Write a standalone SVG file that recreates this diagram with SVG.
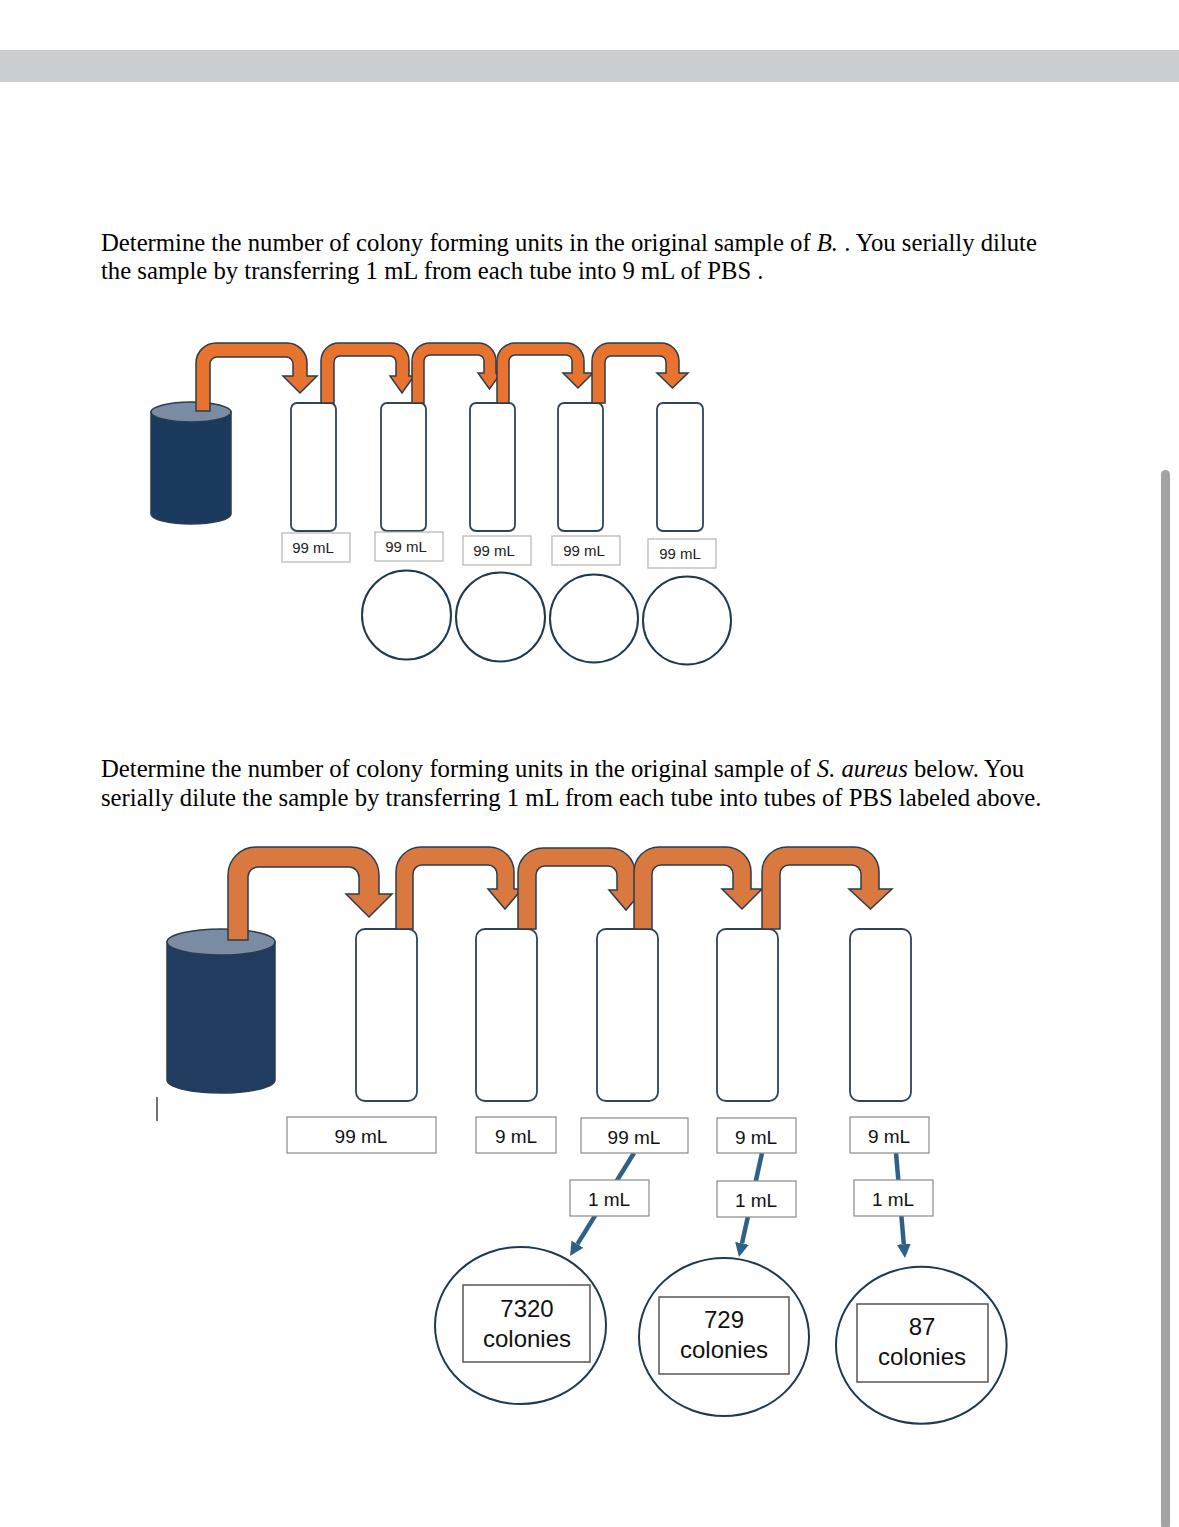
<svg xmlns="http://www.w3.org/2000/svg" width="1179" height="1527" viewBox="0 0 1179 1527">
<style>
.para{font-family:"Liberation Serif","Times New Roman",serif;font-size:24.7px;fill:#000}
.it{font-style:italic}
.tube{fill:#fff;stroke:#2c4558;stroke-width:1.8}
.arrT{fill:#e8732f;stroke:#2a3d4f;stroke-width:1.5;stroke-linejoin:miter}
.arrB{fill:#d97940;stroke:#2a3d4f;stroke-width:1.5;stroke-linejoin:miter}
.lblT{fill:#fff;stroke:#b4b4b4;stroke-width:1.2}
.lblB{fill:#fff;stroke:#8a8a8a;stroke-width:1.2}
.tT{font-family:"Liberation Sans",Arial,sans-serif;font-size:15px;fill:#222;text-anchor:middle}
.tB{font-family:"Liberation Sans",Arial,sans-serif;font-size:19px;fill:#111;text-anchor:middle}
.tC{font-family:"Liberation Sans",Arial,sans-serif;font-size:24px;fill:#111;text-anchor:middle}
.plate{fill:#fff;stroke:#1f3a4f;stroke-width:2}
.cbox{fill:#fff;stroke:#555;stroke-width:1.5}
.blue{stroke:#2e6088;stroke-width:4.5;fill:none;marker-end:url(#bh)}
</style>
<defs>
<marker id="bh" viewBox="0 0 10 10" refX="0" refY="5" markerWidth="14" markerHeight="14" markerUnits="userSpaceOnUse" orient="auto"><path d="M0,0 L10,5 L0,10 z" fill="#2e6088"/></marker>
</defs>
<rect x="0" y="0" width="1179" height="1527" fill="#fff"/>
<rect x="0" y="50" width="1179" height="32" fill="#c9ced2"/>
<rect x="1161" y="470" width="9" height="1060" rx="4.5" fill="#a3a3a3"/>

<text class="para" x="101" y="251">Determine the number of colony forming units in the original sample of <tspan class="it">B.</tspan> . You serially dilute</text>
<text class="para" x="101" y="279">the sample by transferring 1 mL from each tube into 9 mL of PBS .</text>

<text class="para" x="101" y="777">Determine the number of colony forming units in the original sample of <tspan class="it">S. aureus</tspan> below. You</text>
<text class="para" x="101" y="806">serially dilute the sample by transferring 1 mL from each tube into tubes of PBS labeled above.</text>

<!-- Top diagram -->
<g id="top-stock">
<path d="M151,412 V514 A40,10 0 0 0 231,514 V412 Z" fill="#1a3a5e" stroke="#2a3d4f" stroke-width="1.5"/>
<ellipse cx="191" cy="412" rx="40" ry="10" fill="#7a8ca4" stroke="#2a3d4f" stroke-width="1.5"/>
</g>
<g id="top-tube1"><rect class="tube" x="291" y="403" width="45" height="128" rx="6"/></g>
<g id="top-tube2"><rect class="tube" x="381" y="403" width="45" height="128" rx="6"/></g>
<g id="top-tube3"><rect class="tube" x="470" y="403" width="45" height="128" rx="6"/></g>
<g id="top-tube4"><rect class="tube" x="558" y="403" width="45" height="128" rx="6"/></g>
<g id="top-tube5"><rect class="tube" x="657" y="403" width="46" height="128" rx="6"/></g>

<g id="top-connectors">
<path class="arrT" d="M196,411 V363 A20,20 0 0 1 216,343 H287 A20,20 0 0 1 307,363 V376 H317 L300,393 L283,376 H293 V364 A7,7 0 0 0 286,357 H217 A7,7 0 0 0 210,364 V411 Z"/>
<path class="arrT" d="M321,403 V361 A18,18 0 0 1 339,343 H391 A18,18 0 0 1 409,361 V376 H414 L402,393 L390,376 H396 V362 A6,6 0 0 0 390,356 H340 A6,6 0 0 0 334,362 V403 Z"/>
<path class="arrT" d="M412,403 V361 A18,18 0 0 1 430,343 H478 A18,18 0 0 1 496,361 V373 H501 L489.5,389 L478,373 H484 V361 A6,6 0 0 0 478,355 H430 A6,6 0 0 0 424,361 V403 Z"/>
<path class="arrT" d="M497,403 V361 A18,18 0 0 1 515,343 H566 A18,18 0 0 1 584,361 V373 H593 L578,388 L563,373 H572 V361 A6,6 0 0 0 566,355 H515 A6,6 0 0 0 509,361 V403 Z"/>
<path class="arrT" d="M592,403 V361 A18,18 0 0 1 610,343 H661 A18,18 0 0 1 679,361 V373 H688 L672.5,388 L657,373 H666 V362 A6,6 0 0 0 660,356 H611 A6,6 0 0 0 605,362 V403 Z"/>
</g>

<g id="top-label1"><rect class="lblT" x="282" y="533" width="68" height="29"/><text class="tT" x="313" y="553">99 mL</text></g>
<g id="top-label2"><rect class="lblT" x="375" y="532" width="68" height="29"/><text class="tT" x="406" y="552">99 mL</text></g>
<g id="top-label3"><rect class="lblT" x="463" y="536" width="68" height="29"/><text class="tT" x="494" y="556">99 mL</text></g>
<g id="top-label4"><rect class="lblT" x="552" y="536" width="68" height="29"/><text class="tT" x="584" y="556">99 mL</text></g>
<g id="top-label5"><rect class="lblT" x="648" y="539" width="68" height="29"/><text class="tT" x="680" y="559">99 mL</text></g>

<g id="top-plate1"><circle class="plate" cx="406.5" cy="615" r="44.5"/></g>
<g id="top-plate2"><circle class="plate" cx="500.5" cy="617" r="44.5"/></g>
<g id="top-plate3"><circle class="plate" cx="594" cy="618.5" r="44"/></g>
<g id="top-plate4"><circle class="plate" cx="687" cy="620.5" r="44"/></g>

<!-- Bottom diagram -->
<g id="bot-stock">
<path d="M167,942 V1080 A54,13 0 0 0 275,1080 V942 Z" fill="#213c5e" stroke="#2a3d4f" stroke-width="1.5"/>
<ellipse cx="221" cy="942" rx="54" ry="13" fill="#7a8ca4" stroke="#2a3d4f" stroke-width="1.5"/>
</g>
<g id="bot-tube1"><rect class="tube" x="356" y="929" width="61" height="172" rx="9"/></g>
<g id="bot-tube2"><rect class="tube" x="476" y="929" width="61" height="172" rx="9"/></g>
<g id="bot-tube3"><rect class="tube" x="597" y="929" width="61" height="172" rx="9"/></g>
<g id="bot-tube4"><rect class="tube" x="717" y="929" width="61" height="172" rx="9"/></g>
<g id="bot-tube5"><rect class="tube" x="850" y="929" width="61" height="172" rx="9"/></g>

<g id="bot-connectors">
<path class="arrB" d="M228,940 V875 A28,28 0 0 1 256,847 H351 A28,28 0 0 1 379,875 V894 H392 L369,917 L346,894 H359 V877 A10,10 0 0 0 349,867 H258 A10,10 0 0 0 248,877 V940 Z"/>
<path class="arrB" d="M396,929 V872 A25,25 0 0 1 421,847 H489 A25,25 0 0 1 514,872 V889 H522 L505,909 L488,889 H497 V874 A9,9 0 0 0 488,865 H422 A9,9 0 0 0 413,874 V929 Z"/>
<path class="arrB" d="M518,929 V873 A25,25 0 0 1 543,848 H610 A25,25 0 0 1 635,873 V890 H643 L626,910 L609,890 H617 V875 A9,9 0 0 0 608,866 H545 A9,9 0 0 0 536,875 V929 Z"/>
<path class="arrB" d="M634,929 V872 A25,25 0 0 1 659,847 H726 A25,25 0 0 1 751,872 V889 H762 L742,909 L722,889 H733 V874 A9,9 0 0 0 724,865 H661 A9,9 0 0 0 652,874 V929 Z"/>
<path class="arrB" d="M762,929 V872 A25,25 0 0 1 787,847 H854 A25,25 0 0 1 879,872 V889 H892 L870.5,909 L849,889 H861 V874 A9,9 0 0 0 852,865 H789 A9,9 0 0 0 780,874 V929 Z"/>
<line class="blue" x1="634" y1="1153" x2="577.4" y2="1244.1"/>
<line class="blue" x1="762" y1="1153" x2="742" y2="1243.3"/>
<line class="blue" x1="896" y1="1153" x2="903.8" y2="1244.1"/>
</g>

<line x1="157" y1="1097" x2="157" y2="1121" stroke="#444" stroke-width="1.5"/>

<g id="bot-label1"><rect class="lblB" x="287" y="1117" width="149" height="36"/><text class="tB" x="361" y="1143">99 mL</text></g>
<g id="bot-label2"><rect class="lblB" x="476" y="1117" width="80" height="36"/><text class="tB" x="516" y="1143">9 mL</text></g>
<g id="bot-label3"><rect class="lblB" x="581" y="1118" width="107" height="35"/><text class="tB" x="634" y="1144">99 mL</text></g>
<g id="bot-label4"><rect class="lblB" x="717" y="1118" width="79" height="35"/><text class="tB" x="756" y="1144">9 mL</text></g>
<g id="bot-label5"><rect class="lblB" x="850" y="1117" width="79" height="36"/><text class="tB" x="889" y="1143">9 mL</text></g>
<g id="bot-vol1"><rect class="lblB" x="570" y="1180" width="79" height="36"/><text class="tB" x="609" y="1206">1 mL</text></g>
<g id="bot-vol2"><rect class="lblB" x="717" y="1181" width="79" height="36"/><text class="tB" x="756" y="1207">1 mL</text></g>
<g id="bot-vol3"><rect class="lblB" x="854" y="1180" width="79" height="36"/><text class="tB" x="893" y="1206">1 mL</text></g>

<g id="plate-7320">
<ellipse class="plate" cx="520.5" cy="1325.5" rx="85.5" ry="78.5"/>
<rect class="cbox" x="463" y="1285" width="127" height="77"/>
<text class="tC" x="527" y="1317">7320</text>
<text class="tC" x="527" y="1347">colonies</text>
</g>
<g id="plate-729">
<ellipse class="plate" cx="724" cy="1337" rx="85" ry="79"/>
<rect class="cbox" x="659" y="1297" width="130" height="77"/>
<text class="tC" x="724" y="1328">729</text>
<text class="tC" x="724" y="1358">colonies</text>
</g>
<g id="plate-87">
<ellipse class="plate" cx="921.3" cy="1345.3" rx="85.3" ry="78.5"/>
<rect class="cbox" x="857" y="1304" width="131" height="78"/>
<text class="tC" x="922" y="1335">87</text>
<text class="tC" x="922" y="1365">colonies</text>
</g>
</svg>
